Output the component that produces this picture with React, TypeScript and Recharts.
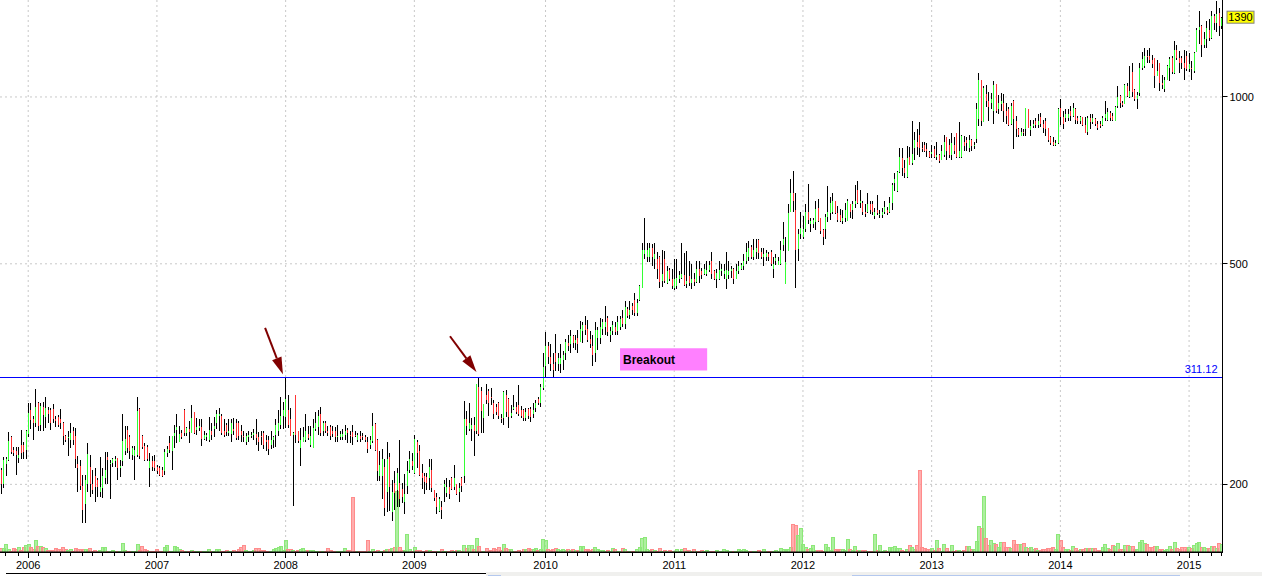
import { Bar, CartesianGrid, ComposedChart, ReferenceArea, ReferenceLine, XAxis, YAxis } from "recharts";

// weekly rows: open, high, low, close, volume
const bars2005 = [
  [212,214,192,200,4],[200,224,197,221,4],[218,224,207,222,8],[221,249,220,239,3],[243,244,227,229,1],[231,234,225,228,4],[230,234,208,226,3],[223,234,219,226,5],[236,251,222,228,2],[236,238,222,229,5],
  [231,251,222,250,7],
];
const bars2006 = [
  [247,280,243,269,8],[272,280,252,261,5],[262,266,240,258,3],[258,297,254,276,12],[281,282,250,255,6],[256,280,250,277,6],[276,282,250,267,5],[265,287,253,275,4],[272,276,258,268,2],[272,275,251,258,2],
  [274,279,258,262,2],[262,266,254,260,4],[265,267,254,256,3],[262,274,252,258,3],[258,259,236,245,5],[244,246,238,240,3],[242,250,225,243,2],[240,258,233,248,3],[250,254,236,240,1],[244,253,214,222,4],
  [218,225,194,214,3],[216,221,195,199,3],[199,208,170,180,3],[184,208,170,204,3],[200,237,194,227,2],[215,226,190,200,4],[200,212,192,195,1],[207,214,186,198,2],[204,205,190,198,1],[194,224,190,198,2],
  [197,214,189,207,5],[205,229,200,212,5],[224,229,200,221,1],[218,221,188,219,1],[219,223,215,222,2],[220,225,215,222,1],[223,223,204,214,1],[214,221,206,216,1],[220,268,216,239,9],[230,255,226,241,2],
  [251,255,228,233,1],[243,246,222,230,1],[226,235,221,233,1],[225,235,204,231,1],[226,288,224,271,8],[273,275,222,225,2],[245,246,232,234,6],[235,237,220,221,3],[234,236,220,222,2],[214,228,198,220,1],
  [220,225,211,215,1],[220,226,211,214,1],
];
const bars2007 = [
  [215,217,209,211,3],[214,216,207,208,1],[212,215,206,207,1],[211,232,208,229,5],[228,235,224,232,7],[237,245,228,231,1],[230,245,212,244,1],[244,256,233,248,6],[251,268,237,254,5],[238,255,238,247,3],
  [248,251,241,243,2],[272,274,245,248,1],[248,254,245,253,1],[252,260,237,249,1],[248,278,248,263,2],[270,270,247,248,1],[251,263,246,254,1],[253,262,250,255,1],[254,262,235,241,1],[241,250,240,246,1],
  [243,248,239,246,1],[240,265,238,251,3],[250,258,240,246,1],[252,265,243,255,1],[258,272,252,268,3],[266,275,250,268,3],[266,268,246,248,1],[250,262,243,246,1],[256,258,245,249,2],[248,262,244,250,1],
  [247,262,238,258,1],[252,263,246,250,2],[258,262,240,242,1],[258,260,240,244,3],[250,256,238,246,5],[245,250,238,243,7],[238,248,236,245,2],[243,250,238,246,1],[244,249,242,246,1],[246,252,240,248,2],
  [247,262,236,242,4],[243,249,230,238,4],[245,250,236,244,2],[248,250,232,236,2],[240,246,230,238,1],[240,245,226,232,1],[236,250,232,240,1],[240,245,233,243,3],[246,262,234,256,4],[250,272,244,258,5],
  [256,288,252,266,6],[266,282,252,272,2],
];
const bars2008 = [
  [265,312,253,285,12],[272,290,253,256,3],[262,275,245,245,3],[246,249,183,248,2],[290,290,237,246,1],[250,250,237,239,2],[233,253,216,240,3],[238,254,238,243,4],[240,268,238,250,2],[247,255,240,242,2],
  [236,255,234,244,2],[233,262,233,253,2],[252,270,250,258,1],[254,272,246,266,1],[268,276,245,248,1],[250,260,244,258,1],[258,260,248,250,1],[250,255,245,248,4],[254,256,240,245,2],[250,255,243,247,1],
  [250,254,238,243,1],[243,256,238,245,1],[243,250,240,247,1],[243,252,240,247,1],[246,256,240,250,4],[251,253,237,248,2],[246,250,237,244,2],[249,256,236,243,55],[246,250,243,245,1],[240,248,238,246,1],
  [245,250,238,241,1],[245,248,240,244,1],[243,246,238,240,1],[238,243,228,232,12],[236,244,232,240,1],[239,269,237,255,3],[257,258,230,231,1],[240,241,203,211,2],[207,230,203,217,1],[207,232,188,222,1],
  [215,222,175,181,2],[194,238,178,222,3],[224,228,179,198,3],[178,204,172,194,4],[201,211,180,193,5],[195,214,182,210,61],[201,240,182,188,5],[196,201,185,190,2],[186,209,177,192,2],[199,220,192,211,18],
  [212,230,210,222,3],[220,228,212,216,1],
];
const bars2009 = [
  [210,246,209,241,5],[238,240,214,228,2],[230,236,207,208,2],[210,218,196,205,1],[207,210,192,202,1],[206,210,195,201,2],[205,222,195,215,2],[212,222,194,197,1],[195,195,187,189,1],[190,193,177,182,1],
  [179,190,178,188,1],[182,187,173,180,3],[198,204,186,200,1],[193,205,190,198,1],[198,204,188,192,1],[205,206,195,196,2],[198,217,195,205,1],[200,200,191,192,2],[194,201,186,197,2],[205,206,194,199,1],
  [207,283,201,262,7],[262,271,246,255,4],[252,280,250,258,7],[252,264,239,256,7],[256,265,225,250,3],[250,304,247,303,14],[300,313,245,247,6],[295,300,248,271,1],[264,279,248,279,1],[290,304,279,284,4],
  [295,297,266,280,1],[288,298,278,286,2],[280,284,262,268,4],[276,279,267,270,3],[280,282,262,266,5],[264,268,258,262,2],[264,295,256,293,8],[290,296,265,270,4],[285,286,253,265,3],[266,278,264,269,3],
  [274,290,272,276,1],[276,282,268,270,1],[278,302,266,268,2],[272,277,263,266,1],[272,274,260,264,3],[263,275,260,270,3],[273,275,262,266,4],[274,276,259,265,3],[268,280,264,272,3],[275,284,270,281,4],
  [285,288,278,281,2],[281,304,276,300,3],[298,345,296,326,13],
];
const bars2010 = [
  [327,376,311,355,12],[355,362,330,340,3],[340,358,320,330,2],[330,345,312,322,3],[345,373,320,332,4],[330,345,320,338,3],[330,358,318,338,2],[335,348,322,342,3],[345,366,335,362,2],[360,372,348,355,3],
  [358,380,345,370,2],[370,372,352,360,3],[360,372,350,365,2],[368,380,345,358,2],[362,395,362,382,6],[378,392,360,388,6],[388,402,372,380,3],[382,396,362,365,3],[366,378,352,358,2],[356,372,327,343,3],
  [345,392,332,380,5],[368,385,350,380,3],[368,400,358,384,2],[382,398,372,392,2],[385,420,372,393,1],[400,402,370,376,2],[372,385,362,378,1],[378,395,372,388,4],[385,392,372,376,3],[378,402,372,392,1],
  [385,402,380,398,1],[400,412,385,390,4],[390,428,382,418,3],[415,418,400,402,1],[405,428,398,412,1],[420,425,405,412,1],[430,442,402,408,1],[408,432,402,425,3],[431,458,428,455,5],[453,545,452,530,14],
  [520,605,510,530,15],[515,545,503,530,3],[515,545,504,535,2],[535,542,495,515,3],[510,545,490,520,2],[510,525,470,490,1],[515,516,452,463,4],[465,530,454,480,1],[510,528,462,465,2],[462,495,460,485,1],
  [488,492,465,470,2],[470,490,450,455,1],
];
const bars2011 = [
  [452,510,448,470,1],[456,510,450,472,3],[470,485,462,478,1],[472,545,470,480,3],[478,522,455,458,4],[460,528,452,465,1],[475,505,455,462,2],[462,500,450,470,1],[470,482,455,463,3],[463,505,462,490,1],
  [490,505,462,475,1],[485,492,470,478,2],[480,500,478,490,1],[480,505,476,488,2],[488,505,484,498,1],[505,525,470,480,1],[485,488,468,470,1],[470,490,452,482,2],[470,505,468,488,1],[485,500,475,490,1],
  [480,500,470,485,3],[470,525,450,488,2],[478,505,470,485,1],[485,495,472,490,1],[490,492,460,470,1],[470,500,470,485,1],[485,505,480,495,3],[490,502,488,498,2],[495,520,488,505,3],[505,545,500,525,2],
  [515,550,505,535,1],[537,540,510,515,1],[515,555,508,530,1],[525,555,510,535,1],[553,555,510,522,2],[525,535,510,515,1],[515,535,495,520,3],[515,530,505,522,1],[520,525,505,515,1],[525,530,495,500,1],
  [490,515,472,500,1],[505,520,497,512,2],[498,515,497,505,1],[500,550,498,530,4],[540,595,528,555,3],[459,560,459,504,2],[527,640,527,617,3],[621,711,620,671,5],[670,735,620,650,28],[626,672,453,530,27],
  [532,578,505,566,17],[566,620,555,580,24],
];
const bars2012 = [
  [560,610,555,578,8],[578,640,570,620,5],[620,697,590,600,3],[590,605,570,598,4],[590,605,580,600,7],[595,650,575,628,2],[630,655,595,598,2],[605,606,565,572,2],[575,577,540,558,1],[578,615,555,608,8],
  [608,690,595,620,5],[618,660,600,645,2],[620,670,615,650,15],[650,650,615,618,3],[618,635,595,600,2],[612,628,595,598,3],[598,625,590,605,3],[605,645,595,625,2],[598,655,598,650,13],[640,640,605,620,3],
  [625,650,602,640,2],[640,695,630,650,6],[680,705,640,645,2],[645,680,630,650,2],[645,648,612,620,2],[620,640,608,615,2],[620,672,618,640,1],[640,650,615,625,1],[640,650,612,620,1],[610,630,602,620,18],
  [625,665,612,618,2],[612,625,605,615,7],[612,630,605,620,1],[620,650,615,632,2],[625,632,612,618,1],[620,660,618,645,5],[645,700,625,695,5],[700,730,677,710,6],[677,735,675,733,4],[733,810,728,780,4],
  [775,808,720,745,2],[745,770,715,730,1],[718,815,715,775,3],[780,812,755,755,7],[760,905,755,790,5],[810,865,770,835,3],[830,875,785,812,7],[853,900,780,810,82],[810,830,795,805,5],[820,828,795,800,4],
  [805,825,780,800,3],[795,800,775,780,3],
];
const bars2013 = [
  [790,820,775,795,4],[805,815,775,780,2],[780,830,770,785,12],[785,790,760,765,4],[770,820,770,800,1],[785,853,780,830,8],[845,848,770,800,4],[820,840,775,785,1],[785,860,770,825,7],[820,845,790,800,1],
  [860,862,775,778,2],[778,900,775,800,2],[778,855,775,850,1],[830,850,800,815,2],[835,845,800,825,6],[810,855,795,835,6],[835,840,800,815,3],[815,830,805,820,3],[840,975,825,950,11],[913,1105,888,1073,26],
  [1073,1075,885,905,24],[900,1048,900,1040,56],[1012,1050,960,984,14],[985,1020,905,960,7],[975,1015,950,990,12],[945,1070,895,1052,9],[1055,1057,935,945,8],[950,1010,930,975,5],[970,1015,945,985,10],[975,1012,900,945,10],
  [945,975,895,925,5],[950,960,888,890,5],[895,975,890,965,4],[985,988,805,912,12],[905,925,845,875,8],[875,880,845,855,8],[850,880,850,865,8],[865,875,852,860,9],[875,955,852,955,5],[950,952,880,880,4],
  [870,910,850,885,5],[885,910,878,895,3],[905,915,880,890,4],[890,930,880,905,2],[920,935,882,895,2],[895,910,860,880,3],[905,915,850,875,3],[880,880,830,835,4],[847,850,820,825,4],[830,845,815,820,5],
  [820,835,815,825,3],[826,955,824,950,18],
];
const bars2014 = [
  [955,992,890,920,12],[920,945,875,895,5],[915,950,900,930,3],[915,950,905,930,3],[945,965,905,925,2],[925,975,920,955,6],[950,955,895,910,4],[915,925,895,905,2],[905,925,895,920,3],[920,922,885,890,3],
  [890,920,860,860,4],[865,925,855,915,4],[915,930,875,900,4],[900,930,895,915,4],[912,918,885,895,4],[895,905,870,880,2],[895,905,880,885,2],[890,925,885,915,5],[915,985,905,930,8],[910,955,905,940,4],
  [935,945,905,915,3],[925,935,905,910,7],[905,965,905,960,6],[965,1045,955,1000,9],[1005,1010,955,975,3],[975,985,960,968,3],[970,1055,970,1050,7],[1045,1060,1000,1005,7],[1000,1135,995,1025,6],[1110,1150,1000,1020,6],
  [1030,1035,985,990,3],[990,1020,950,1010,3],[1015,1150,1005,1130,10],[1130,1205,1120,1170,12],[1135,1225,1130,1185,9],[1185,1215,1150,1180,8],[1185,1225,1150,1165,5],[1165,1190,1130,1145,5],[1175,1178,1040,1090,6],[1090,1165,1090,1115,6],
  [1150,1150,1025,1060,3],[1060,1095,1035,1050,3],[1035,1085,1020,1075,2],[1075,1140,1075,1135,3],[1130,1180,1070,1170,6],[1175,1185,1100,1110,3],[1105,1260,1100,1215,10],[1215,1240,1165,1175,4],[1175,1210,1105,1150,3],[1175,1185,1125,1150,5],
  [1150,1215,1075,1130,5],[1185,1210,1115,1125,3],
];
const bars2015 = [
  [1125,1200,1110,1145,5],[1130,1160,1075,1125,4],[1115,1205,1105,1200,7],[1205,1330,1205,1320,9],[1320,1430,1245,1335,10],[1345,1347,1180,1240,5],[1240,1310,1225,1270,5],[1270,1370,1225,1330,4],[1320,1385,1260,1280,4],[1280,1430,1270,1400,6],
  [1400,1410,1320,1360,6],[1360,1490,1310,1410,4],[1415,1445,1290,1345,9],[1345,1395,1325,1390,8],
];

const yearLabels = ["2006", "2007", "2008", "2009", "2010", "2011", "2012", "2013", "2014", "2015"];
const yearStarts = [11, 63, 115, 167, 220, 272, 324, 376, 428, 480];
const monthOffsets = [4, 9, 13, 17, 22, 26, 30, 35, 39, 43, 48];
const gridPrices = [200, 500, 1000];
const priceTicks = [200, 500, 1000, 1390];
const breakoutLevel = 311.12;
const lastPrice = 1390;

const rows = [
  ...bars2005, ...bars2006, ...bars2007, ...bars2008, ...bars2009, ...bars2010,
  ...bars2011, ...bars2012, ...bars2013, ...bars2014, ...bars2015,
];
const data = rows.map((r, i) => ({ i, o: r[0], h: Math.max(r[0], r[1], r[3]), l: Math.min(r[0], r[2], r[3]), c: r[3], v: r[4] }));

const monthTicks = [2, 7];
yearStarts.forEach((s) => {
  monthTicks.push(s);
  monthOffsets.forEach((m) => {
    if (s + m < data.length) monthTicks.push(s + m);
  });
});

const FONT = "'Liberation Sans', Arial, sans-serif";
const GRID = "#c8c8c8";

function Candle(props: any) {
  const { x, y, width, height, payload } = props;
  const px = Math.floor(x + width / 2);
  const span = Math.log(payload.h) - Math.log(payload.l) || 1;
  const at = (v: number) => y + (height * (Math.log(payload.h) - Math.log(v))) / span;
  const top = at(Math.max(payload.o, payload.c));
  const bottom = at(Math.min(payload.o, payload.c));
  const color = payload.c >= payload.o ? "#33ff33" : "#ff3333";
  return (
    <g shapeRendering="crispEdges">
      <rect x={px} y={y} width={1} height={height} fill="#000" />
      <rect x={px} y={top} width={1} height={Math.max(bottom - top, 1)} fill={color} />
    </g>
  );
}

function VolumeBar(props: any) {
  const { x, y, width, height, payload } = props;
  const color = payload.c >= payload.o ? "#8ce878" : "#ff8c8c";
  return (
    <rect
      x={Math.floor(x + width / 2) - 1}
      y={y}
      width={3}
      height={height}
      fill={color}
      fillOpacity={0.7}
      stroke={color}
      shapeRendering="crispEdges"
    />
  );
}

function TimeTick(props: any) {
  const { x, y, payload } = props;
  const idx = yearStarts.indexOf(payload.value);
  const px = Math.floor(x) + 0.5;
  return (
    <g>
      <line x1={px} x2={px} y1={y} y2={y + (idx >= 0 ? 6 : 4)} stroke="#000" />
      {idx >= 0 && (
        <text x={x} y={y + 17} textAnchor="middle" fontSize={11} fontFamily={FONT} fill="#000">
          {yearLabels[idx]}
        </text>
      )}
    </g>
  );
}

function PriceTick(props: any) {
  const { x, y, payload } = props;
  if (payload.value === lastPrice) {
    return (
      <g>
        <rect x={x + 4.5} y={y - 6.5} width={27} height={12} fill="#ffff00" stroke="#808080" />
        <text x={x + 18} y={y + 3.5} textAnchor="middle" fontSize={11} fontFamily={FONT} fill="#000">
          {payload.value}
        </text>
      </g>
    );
  }
  const py = Math.floor(y) + 0.5;
  return (
    <g>
      <line x1={x} x2={x + 5} y1={py} y2={py} stroke="#000" />
      <text x={x + 7} y={y + 4} fontSize={11} fontFamily={FONT} fill="#000">
        {payload.value}
      </text>
    </g>
  );
}

function LevelLine(props: any) {
  const py = Math.floor(props.y1) + 0.5;
  return <line x1={props.x1} x2={props.x2} y1={py} y2={py} stroke="#0000ff" strokeWidth={1} />;
}

function Arrow(props: any) {
  const { x1, y1, x2, y2 } = props;
  const len = Math.hypot(x2 - x1, y2 - y1);
  const ux = (x2 - x1) / len;
  const uy = (y2 - y1) / len;
  const bx = x2 - ux * 17;
  const by = y2 - uy * 17;
  return (
    <g>
      <line x1={x1} y1={y1} x2={bx} y2={by} stroke="#800000" strokeWidth={2} />
      <path d={`M${x2} ${y2}L${bx - uy * 5} ${by + ux * 5}L${bx + uy * 5} ${by - ux * 5}Z`} fill="#800000" />
    </g>
  );
}

const strip = (left: number, top: number, width: number, height: number, background: string) => (
  <div key={`${left}-${top}`} style={{ position: "absolute", left, top, width, height, background }} />
);

export default function App() {
  return (
    <div style={{ position: "absolute", left: 0, top: 0, width: 1262, height: 576, background: "#fff", overflow: "hidden" }}>
      <ComposedChart width={1262} height={576} data={data} margin={{ top: 0, right: 0, bottom: 0, left: 0 }}>
        <CartesianGrid
          xAxisId="t"
          yAxisId="p"
          verticalValues={yearStarts}
          horizontalValues={gridPrices}
          stroke={GRID}
          strokeDasharray="2 3"
        />
        <XAxis
          xAxisId="t"
          dataKey="i"
          type="number"
          domain={[-0.4, 493.5]}
          allowDataOverflow
          ticks={monthTicks}
          interval={0}
          height={24}
          tickSize={0}
          tickMargin={0}
          tickLine={false}
          tick={<TimeTick />}
          axisLine={{ stroke: "#000" }}
        />
        <XAxis xAxisId="v" dataKey="i" type="number" domain={[-0.4, 493.5]} allowDataOverflow hide />
        <YAxis
          yAxisId="p"
          orientation="right"
          scale="log"
          domain={[151, 1496]}
          allowDataOverflow
          ticks={priceTicks}
          interval={0}
          width={39.5}
          tickSize={0}
          tickMargin={0}
          tickLine={false}
          tick={<PriceTick />}
          axisLine={{ stroke: "#000" }}
        />
        <YAxis yAxisId="vol" domain={[0, 552]} allowDataOverflow hide />

        <Bar xAxisId="v" yAxisId="vol" dataKey="v" barSize={3} shape={<VolumeBar />} isAnimationActive={false} />
        <Bar
          xAxisId="t"
          yAxisId="p"
          dataKey={(d: any) => [d.l, d.h]}
          barSize={1}
          shape={<Candle />}
          isAnimationActive={false}
        />

        <ReferenceLine
          xAxisId="t"
          yAxisId="p"
          y={breakoutLevel}
          stroke="#0000ff"
          shape={<LevelLine />}
          label={{ value: "311.12", position: "insideBottomRight", fill: "#0000ff", fontSize: 11, fontFamily: FONT, offset: 5 }}
        />
        <ReferenceArea
          xAxisId="t"
          yAxisId="p"
          x1={250.1}
          x2={285.3}
          y1={321}
          y2={352}
          fill="#ff80ff"
          fillOpacity={1}
          stroke="none"
          label={{ value: "Breakout", position: "insideLeft", fill: "#000", fontSize: 12, fontWeight: "bold", fontFamily: FONT, offset: 3 }}
        />
        <ReferenceLine
          xAxisId="t"
          yAxisId="p"
          segment={[{ x: 106.7, y: 383 }, { x: 113.9, y: 316 }]}
          shape={<Arrow />}
        />
        <ReferenceLine
          xAxisId="t"
          yAxisId="p"
          segment={[{ x: 181.4, y: 370 }, { x: 192.1, y: 319 }]}
          shape={<Arrow />}
        />
      </ComposedChart>
      {/* plot frame and the window strip under the chart */}
      {strip(1222, 0, 1, 552, "#000")}
      {strip(0, 552, 1223, 1, "#000")}
      {strip(6, 573, 480, 1, "#000")}
      {strip(486, 572, 776, 4, "#f0f0ee")}
      {strip(488, 575, 13, 1, "#b4c8ee")}
      {strip(852, 575, 328, 1, "#b4c8ee")}
    </div>
  );
}
